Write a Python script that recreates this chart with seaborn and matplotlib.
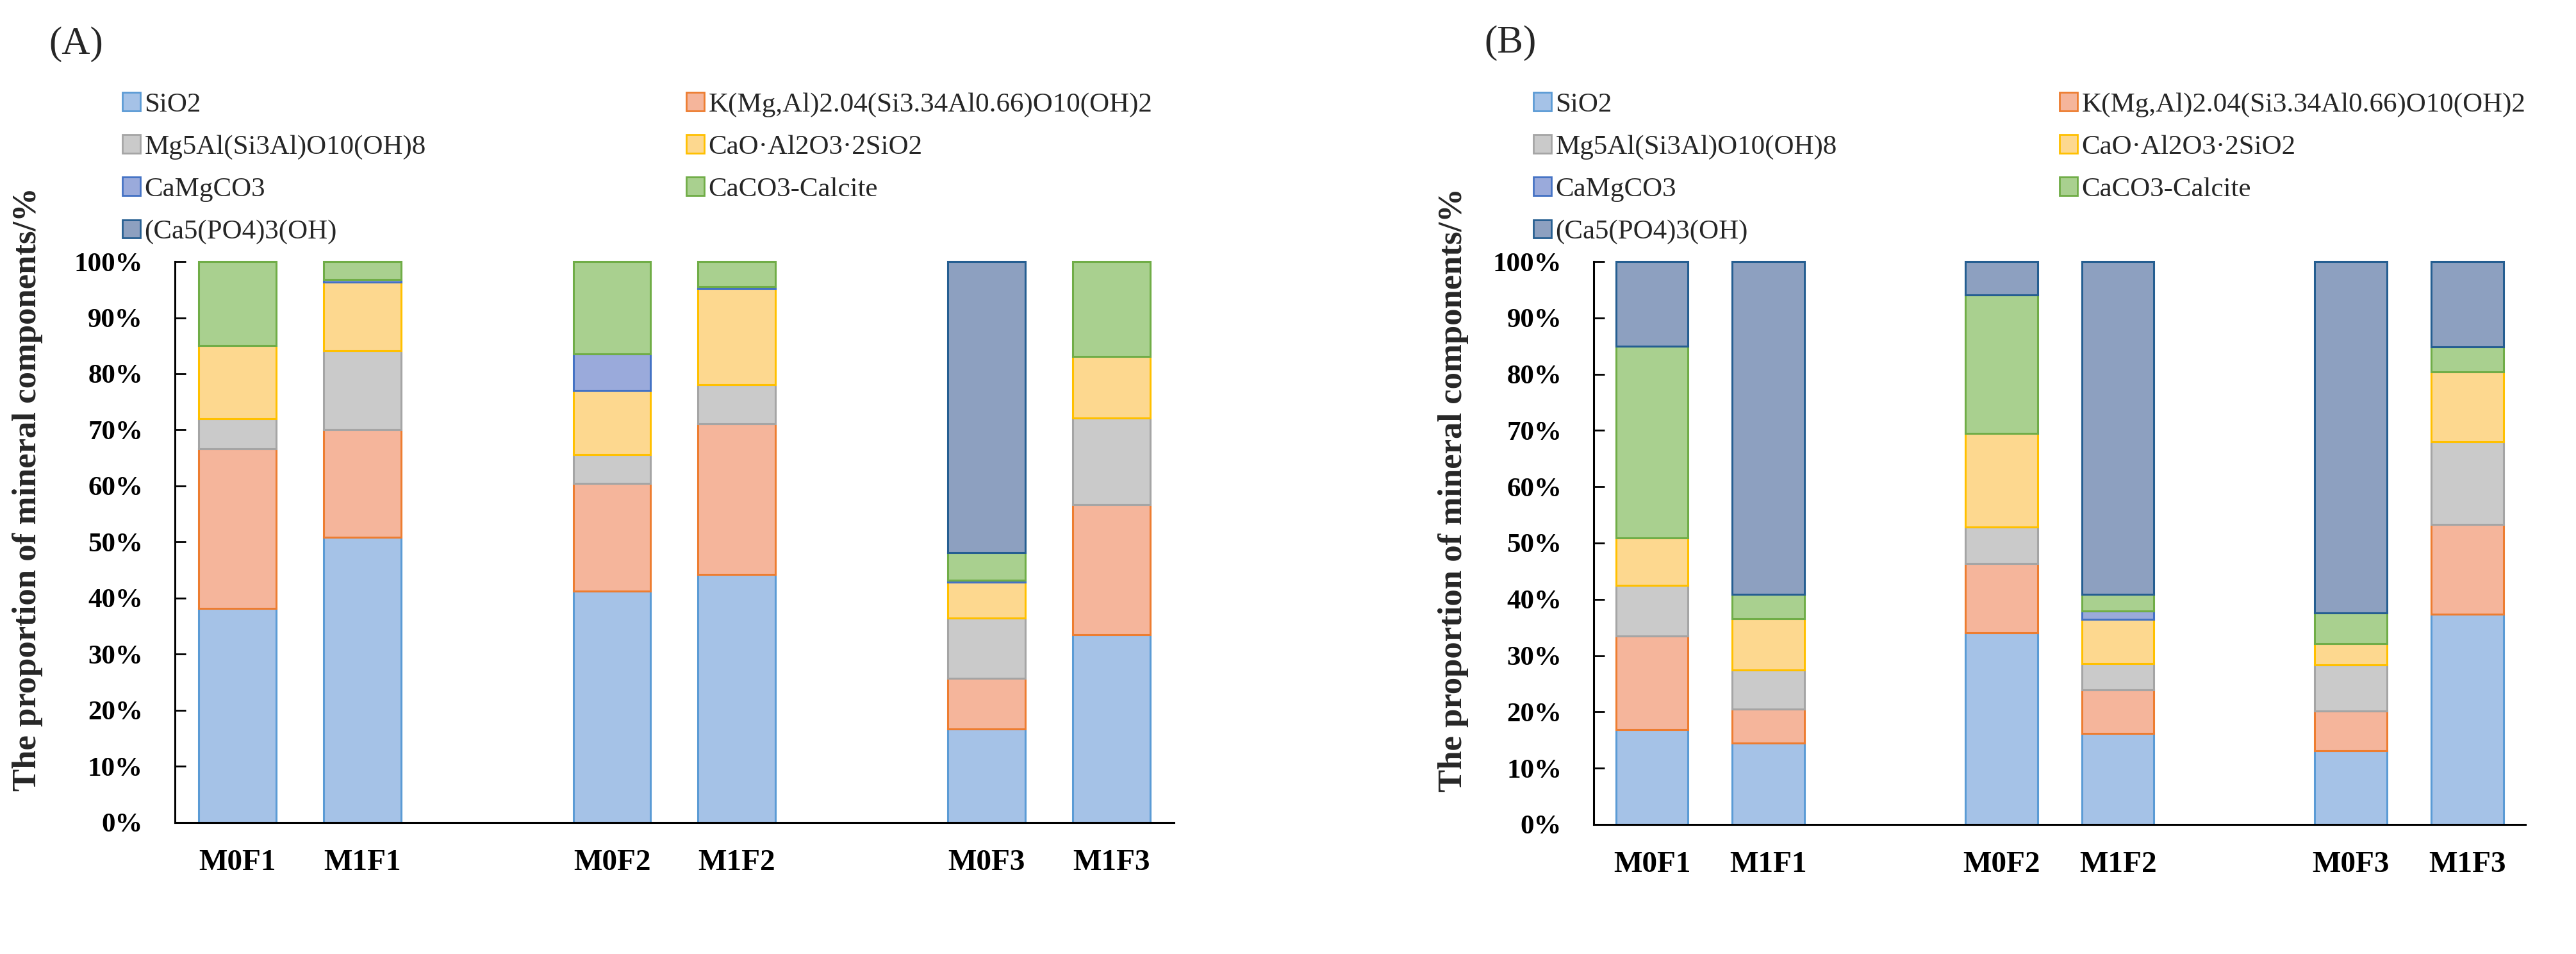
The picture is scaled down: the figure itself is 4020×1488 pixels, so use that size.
import numpy as np
import pandas as pd
import matplotlib
matplotlib.use('Agg')
import matplotlib.pyplot as plt
from matplotlib.patches import Patch
import seaborn as sns

samples = ['M0F1', 'M1F1', 'M0F2', 'M1F2', 'M0F3', 'M1F3']
slots = [0, 1, 3, 4, 6, 7]   # blank columns between the pairs, like the excel sheet

minerals = ['SiO2', 'K(Mg,Al)2.04(Si3.34Al0.66)O10(OH)2', 'Mg5Al(Si3Al)O10(OH)8',
            'CaO·Al2O3·2SiO2', 'CaMgCO3', 'CaCO3-Calcite', '(Ca5(PO4)3(OH)']

# (A) proportions, %
a_sio2 = [38.2, 50.9, 41.2, 44.2, 16.7, 33.5]
a_kmica = [28.4, 19.1, 19.3, 26.9, 9.0, 23.2]
a_chlorite = [5.4, 14.1, 5.1, 7.0, 10.7, 15.4]
a_anorthite = [13.0, 12.3, 11.4, 17.1, 6.4, 11.0]
a_dolomite = [0.0, 0.4, 6.5, 0.4, 0.4, 0.0]
a_calcite = [15.0, 3.2, 16.5, 4.4, 4.9, 16.9]
a_apatite = [0.0, 0.0, 0.0, 0.0, 51.9, 0.0]

# (B) proportions, %
b_sio2 = [16.8, 14.5, 34.1, 16.2, 13.1, 37.4]
b_kmica = [16.7, 6.0, 12.3, 7.7, 7.1, 15.9]
b_chlorite = [9.0, 6.9, 6.4, 4.7, 8.1, 14.7]
b_anorthite = [8.4, 9.2, 16.7, 7.8, 3.8, 12.4]
b_dolomite = [0.0, 0.0, 0.0, 1.5, 0.0, 0.0]
b_calcite = [34.1, 4.3, 24.6, 3.0, 5.5, 4.5]
b_apatite = [15.0, 59.1, 5.9, 59.1, 62.4, 15.1]

fills = ['#A5C2E7', '#F5B59B', '#CACACA', '#FDD88F', '#9AAADB', '#A9D08F', '#8DA0C0']
edges = ['#5B9BD5', '#ED7D31', '#A5A5A5', '#FFC000', '#4472C4', '#70AD47', '#255E91']

sns.set_style('ticks')
plt.rcParams['font.family'] = ['Liberation Serif', 'DejaVu Serif']

fig = plt.figure(figsize=(40.2, 14.88), dpi=100)
ax_a = fig.add_axes([0.0679, 0.1378, 0.3878, 0.588])
ax_b = fig.add_axes([0.6187, 0.1358, 0.3617, 0.590])


def draw_panel(ax, values, label_x):
    bottom = np.zeros(len(samples))
    for vals, fc, ec in zip(values, fills, edges):
        df = pd.DataFrame({'slot': slots, 'pct': vals})
        sns.barplot(data=df, x='slot', y='pct', native_scale=True, width=0.62,
                    bottom=bottom, color=fc, saturation=1, edgecolor=ec,
                    linewidth=2.2, errorbar=None, ax=ax)
        bottom = bottom + np.array(vals)
    for p in ax.patches:
        if p.get_height() <= 0:
            p.set_visible(False)
        p.set_clip_on(False)

    ax.set_xlim(-0.5, 7.5)
    ax.set_ylim(0, 100)
    yt = list(range(0, 101, 10))
    ax.set_yticks(yt, labels=[f'{t}%' for t in yt], fontsize=31, fontweight='bold')
    ax.set_xticks(slots, labels=samples, fontsize=34, fontweight='bold')
    ax.tick_params(axis='y', direction='in', length=12, width=2, pad=36, colors='black')
    ax.tick_params(axis='x', length=0, pad=30, colors='black')
    sns.despine(ax=ax)
    for s in ('left', 'bottom'):
        ax.spines[s].set_linewidth(2.2)
        ax.spines[s].set_color('black')
    ax.set_xlabel('')
    ax.set_ylabel('The proportion of mineral components/%', fontsize=38, fontweight='bold')
    ax.yaxis.set_label_coords(label_x, 0.594)


def add_legend(x1, x2, y):
    h = [Patch(facecolor=fills[i], edgecolor=edges[i], linewidth=2, label=minerals[i])
         for i in range(len(minerals))]
    # excel fills the legend row by row
    for handles, x in (([h[0], h[2], h[4], h[6]], x1), ([h[1], h[3], h[5]], x2)):
        fig.legend(handles=handles, loc='upper left', bbox_to_anchor=(x, y),
                   fontsize=31, frameon=False, borderpad=0, borderaxespad=0,
                   handlelength=0.65, handleheight=0.65, handletextpad=0.15,
                   labelspacing=0.64)


draw_panel(ax_a, [a_sio2, a_kmica, a_chlorite, a_anorthite, a_dolomite, a_calcite, a_apatite], -0.132)
draw_panel(ax_b, [b_sio2, b_kmica, b_chlorite, b_anorthite, b_dolomite, b_calcite, b_apatite], -0.134)

add_legend(0.0475, 0.2664, 0.903)
add_legend(0.5953, 0.7995, 0.903)

fig.text(76 / 4020, 1 - 69 / 1488, '(A)', fontsize=44, va='center', ha='left')
fig.text(2316 / 4020, 1 - 67 / 1488, '(B)', fontsize=44, va='center', ha='left')

fig.savefig('out.png', dpi=100)
